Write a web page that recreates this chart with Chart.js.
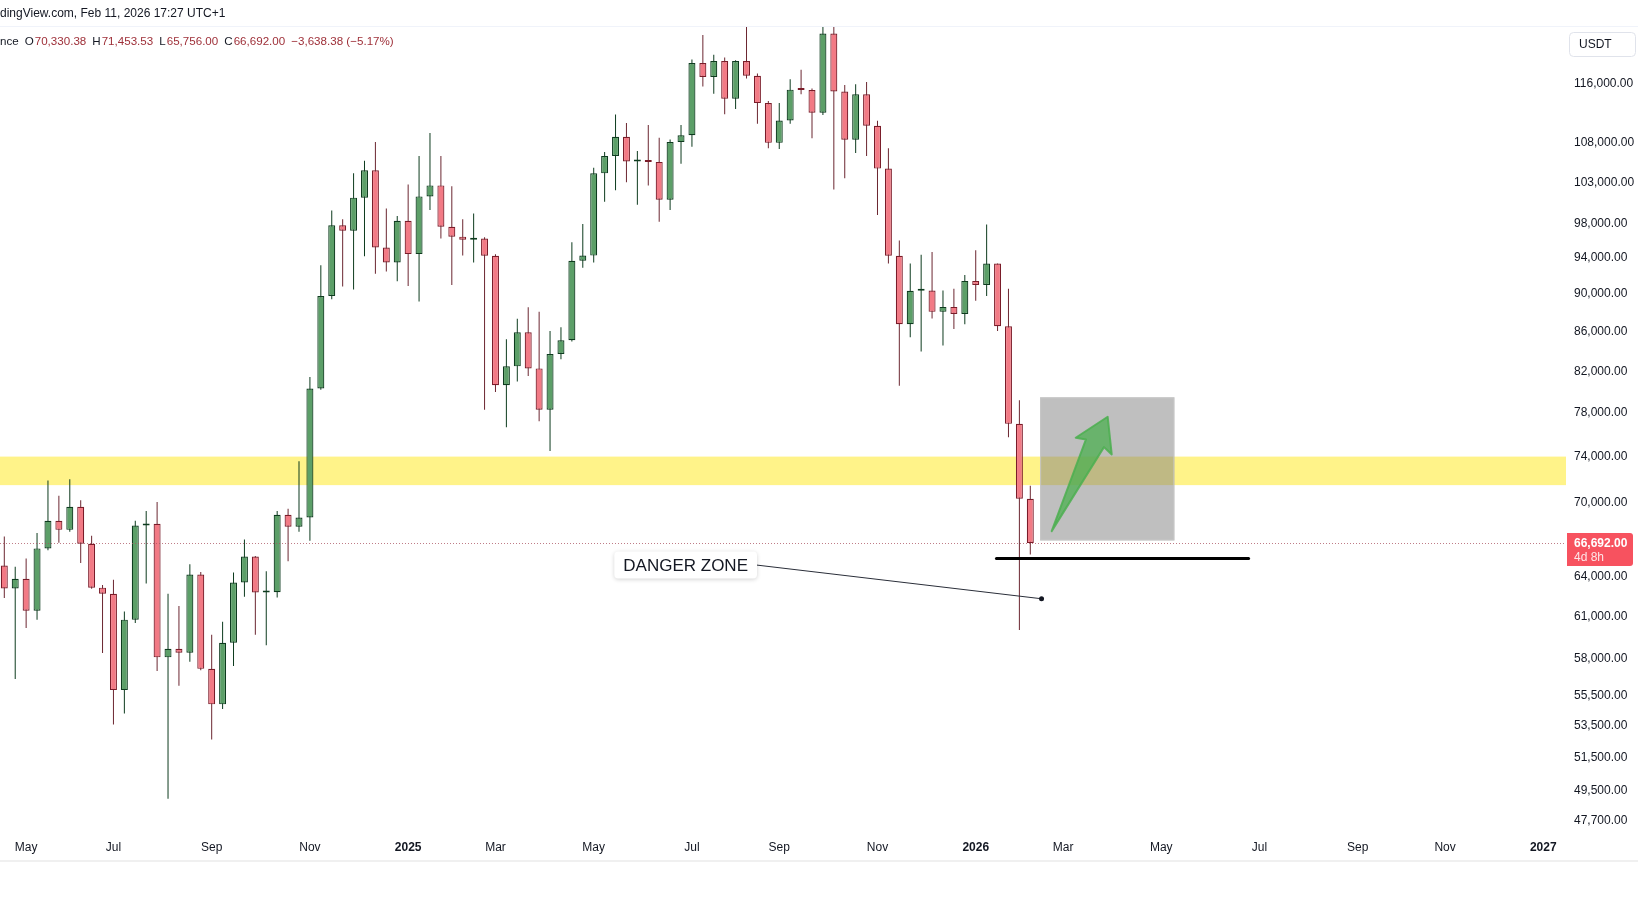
<!DOCTYPE html>
<html><head><meta charset="utf-8">
<script src="https://cdn.jsdelivr.net/npm/chart.js@4.4.1/dist/chart.umd.min.js"></script>
<style>html,body{margin:0;padding:0;background:#fff;overflow:hidden}canvas{display:block}</style>
</head><body><canvas id="c" width="1638" height="921"></canvas>
<script>
// Weekly candles, week 0 = week of Apr 22, 2024 ... week 94 = week of Feb 9, 2026
const opens  = [64900,63120,63870,61460,66250,68500,67750,69650,66620,63190,62730,55850,60800,68100,68250,58100,58700,58420,64200,57300,54900,59130,63580,65600,62830,62850,68990,68000,68770,80330,89800,97800,97160,101100,104500,95200,93500,98330,94450,101250,102600,97620,96460,96100,96250,94270,80640,82500,85960,82300,78300,83740,85140,93690,94280,104100,106300,108800,105600,105700,105550,100850,108100,109000,118900,116920,119200,113900,119200,117100,113300,108000,110950,115150,115100,112000,123200,114900,108400,114500,110250,104700,94270,86800,90360,90400,88100,88630,87880,91450,91000,93390,86590,76980,70330.38];
const highs  = [67200,64800,65450,67500,71900,70600,72000,70200,67260,63400,63800,61400,68500,69300,70050,62730,61800,65000,64400,59700,60650,64350,66960,65650,64450,69300,69500,73580,81450,93200,99540,98500,104100,105700,108100,99800,98900,102700,106300,109300,106300,102500,98500,99200,96400,94430,85240,87370,88600,88100,86100,86470,95800,97950,104800,106800,111750,110600,106950,110350,108650,108450,110350,119400,123000,120100,119700,119300,124200,117400,113600,113300,116600,117950,115300,125700,126200,115800,115900,116200,110900,107300,96000,93400,94370,94700,90400,90600,92100,94900,97880,93400,90600,79200,71453.53];
const lows   = [62400,56600,60200,60800,66100,66700,67600,65100,63100,58400,53580,54300,60550,63500,57150,49000,56150,57800,57200,52630,54600,57500,62510,59700,58950,62440,65240,67600,66860,80200,89440,90830,90500,94200,92230,92500,91400,90900,89200,99600,96230,91000,94300,93500,78300,80000,76660,81000,81550,77220,74500,83200,85000,92900,93500,100600,102000,103000,100250,102600,98200,99600,105300,107500,115600,114600,111800,112500,116700,110500,107300,107200,110500,114500,108600,111700,102100,103500,106700,106300,99000,93400,80600,85450,84000,87400,84600,86300,86800,89300,89800,86100,75750,60050,65756];
const closes = [63120,63870,61460,66250,68500,67750,69650,66620,63190,62730,55850,60800,68100,68250,58100,58700,58420,64200,57300,54900,59130,63580,65600,62830,62850,68990,68000,68770,80330,89800,97800,97160,101100,104500,95200,93500,98330,94450,101250,102600,97620,96460,96100,96250,94270,80640,82500,85960,82300,78300,83740,85140,93690,94280,104100,106300,108800,105600,105700,105550,100850,108100,109000,118900,116920,119200,113900,119200,117100,113300,108000,110950,115150,115100,112000,123200,114900,108400,114500,110250,104700,94270,86800,90360,90400,88100,88630,87880,91450,91000,93390,86590,76980,70330.38,66692];

const priceTicks = [116000,108000,103000,98000,94000,90000,86000,82000,78000,74000,70000,67000,64000,61000,58000,55500,53500,51500,49500,47700];
const timeTickWeeks  = [2,10,19,28,37,45,54,63,71,80,89,97,106,115,124,132,141];
const timeTickLabels = ['May','Jul','Sep','Nov','2025','Mar','May','Jul','Sep','Nov','2026','Mar','May','Jul','Sep','Nov','2027'];

const lastPrice = 66692;
const zoneBand = [71500, 74000];           // yellow zone
const grayBox = {x: [94.9, 107.2], y: [66890, 79480]};
const supportLine = {x: [90.9, 114.0], y: 65450};
const dangerLine = {from: [68.96, 64930], to: [95.03, 62350]};
const arrowPts = [[95.96,67645],[99.10,75550],[98.16,75700],[101.09,77640],[101.46,74190],[100.75,74850]];

const FONT = '"Liberation Sans", Arial, sans-serif';
const upFill='#5c9f68', upLine='#0d3b1e', dnFill='#f27a85', dnLine='#7a1c29', dnWick='#6b2630';
const isUp = i => closes[i] >= opens[i];

const idx = opens.map((_, i) => i);
const bodyData = idx.map(i => ({x: i, y: [opens[i], closes[i]]}));
const wickData = idx.map(i => ({x: i, y: [lows[i], highs[i]]}));

const fmt = v => Number(v).toLocaleString('en-US', {minimumFractionDigits: 2, maximumFractionDigits: 2});

const annot = {
  id: 'annot',
  beforeDatasetsDraw(chart) {
    const {ctx, chartArea: a, scales: {y}} = chart;
    ctx.save();
    ctx.beginPath(); ctx.rect(a.left, a.top, a.right - a.left, a.bottom - a.top); ctx.clip();
    const y1 = y.getPixelForValue(zoneBand[1]), y2 = y.getPixelForValue(zoneBand[0]);
    ctx.fillStyle = 'rgba(255,235,59,0.6)';
    ctx.fillRect(a.left, y1, a.right - a.left, y2 - y1);
    ctx.restore();
  },
  afterDatasetsDraw(chart) {
    const {ctx, chartArea: a, scales: {x, y}} = chart;
    ctx.save();
    ctx.beginPath(); ctx.rect(a.left, a.top, a.right - a.left, a.bottom - a.top); ctx.clip();
    const py = Math.round(y.getPixelForValue(lastPrice)) + 0.5;
    ctx.strokeStyle = 'rgba(170,80,95,0.75)'; ctx.lineWidth = 1; ctx.setLineDash([1, 2]);
    ctx.beginPath(); ctx.moveTo(a.left, py); ctx.lineTo(a.right, py); ctx.stroke();
    ctx.setLineDash([]);
    const bx1 = x.getPixelForValue(grayBox.x[0]), bx2 = x.getPixelForValue(grayBox.x[1]);
    const by1 = y.getPixelForValue(grayBox.y[1]), by2 = y.getPixelForValue(grayBox.y[0]);
    ctx.fillStyle = 'rgba(128,128,128,0.5)';
    ctx.fillRect(bx1, by1, bx2 - bx1, by2 - by1);
    ctx.strokeStyle = 'rgba(200,200,200,0.9)'; ctx.lineWidth = 1;
    ctx.strokeRect(bx1 + 0.5, by1 + 0.5, bx2 - bx1 - 1, by2 - by1 - 1);
    ctx.beginPath();
    arrowPts.forEach((p, k) => {
      const px = x.getPixelForValue(p[0]), pyy = y.getPixelForValue(p[1]);
      if (k === 0) ctx.moveTo(px, pyy); else ctx.lineTo(px, pyy);
    });
    ctx.closePath();
    ctx.fillStyle = 'rgba(76,175,80,0.75)'; ctx.fill();
    ctx.strokeStyle = 'rgba(76,175,80,0.85)'; ctx.lineWidth = 2; ctx.lineJoin = 'round'; ctx.stroke();
    const sy = y.getPixelForValue(supportLine.y);
    ctx.strokeStyle = '#000'; ctx.lineWidth = 3; ctx.lineCap = 'round';
    ctx.beginPath(); ctx.moveTo(x.getPixelForValue(supportLine.x[0]), sy); ctx.lineTo(x.getPixelForValue(supportLine.x[1]), sy); ctx.stroke();
    const dx1 = x.getPixelForValue(dangerLine.from[0]), dy1 = y.getPixelForValue(dangerLine.from[1]);
    const dx2 = x.getPixelForValue(dangerLine.to[0]), dy2 = y.getPixelForValue(dangerLine.to[1]);
    ctx.strokeStyle = '#2a2e39'; ctx.lineWidth = 1; ctx.lineCap = 'butt';
    ctx.beginPath(); ctx.moveTo(dx1, dy1); ctx.lineTo(dx2, dy2); ctx.stroke();
    ctx.fillStyle = '#131722'; ctx.beginPath(); ctx.arc(dx2, dy2, 2.5, 0, Math.PI * 2); ctx.fill();
    ctx.font = '17px ' + FONT;
    const text = 'DANGER ZONE';
    const tw = ctx.measureText(text).width;
    const bw = tw + 18, bh = 27, lx = dx1 - bw, ly = dy1 - bh / 2;
    ctx.save();
    ctx.shadowColor = 'rgba(0,0,0,0.18)'; ctx.shadowBlur = 4; ctx.shadowOffsetY = 1;
    ctx.fillStyle = '#fff';
    ctx.beginPath(); ctx.roundRect(lx, ly, bw, bh, 4); ctx.fill();
    ctx.restore();
    ctx.fillStyle = '#131722'; ctx.textBaseline = 'middle'; ctx.textAlign = 'center';
    ctx.fillText(text, lx + bw / 2, dy1 + 1);
    ctx.restore();
  },
  afterDraw(chart) {
    const {ctx, scales: {y}} = chart;
    ctx.save();
    ctx.fillStyle = '#f0f3fa'; ctx.fillRect(0, 26, 1638, 1);
    ctx.textBaseline = 'middle'; ctx.textAlign = 'left';
    ctx.font = '12px ' + FONT; ctx.fillStyle = '#131722';
    ctx.fillText('dingView.com, Feb 11, 2026 17:27 UTC+1', 0, 14);
    ctx.font = '11.6px ' + FONT;
    let cx = 0;
    const seg = (t, col, gap) => { ctx.fillStyle = col; ctx.fillText(t, cx, 42); cx += ctx.measureText(t).width + gap; };
    const red = '#9e2f38', dark = '#131722';
    seg('nce', dark, 6);
    seg('O', dark, 1); seg('70,330.38', red, 6);
    seg('H', dark, 1); seg('71,453.53', red, 6);
    seg('L', dark, 1); seg('65,756.00', red, 6);
    seg('C', dark, 1); seg('66,692.00', red, 6);
    seg('\u22123,638.38 (\u22125.17%)', red, 0);
    ctx.strokeStyle = '#e0e3eb'; ctx.lineWidth = 1; ctx.fillStyle = '#fff';
    ctx.beginPath(); ctx.roundRect(1569.5, 32.5, 66, 24, 4); ctx.fill(); ctx.stroke();
    ctx.fillStyle = dark; ctx.font = '12px ' + FONT; ctx.fillText('USDT', 1579, 45);
    const py = y.getPixelForValue(lastPrice);
    ctx.fillStyle = '#f7525f';
    ctx.beginPath(); ctx.roundRect(1567, py - 10, 66, 33, [0, 3, 3, 0]); ctx.fill();
    ctx.fillStyle = '#fff'; ctx.font = 'bold 12px ' + FONT;
    ctx.fillText(fmt(lastPrice), 1574, py + 0.5);
    ctx.fillStyle = 'rgba(255,255,255,0.85)'; ctx.font = '12px ' + FONT;
    ctx.fillText('4d 8h', 1574, py + 15);
    ctx.fillStyle = '#f0f0f0'; ctx.fillRect(0, 860, 1638, 2);
    ctx.restore();
  }
};

new Chart(document.getElementById('c'), {
  type: 'bar',
  data: {
    datasets: [
      {
        label: 'body', data: bodyData, grouped: false, barThickness: 7, minBarLength: 2,
        borderWidth: 1.2, borderSkipped: false, inflateAmount: 0,
        backgroundColor: c => isUp(c.dataIndex) ? upFill : dnFill,
        borderColor: c => isUp(c.dataIndex) ? upLine : dnLine
      },
      {
        label: 'wick', data: wickData, grouped: false, barThickness: 1, borderWidth: 0, inflateAmount: 0,
        backgroundColor: c => isUp(c.dataIndex) ? upLine : dnWick
      }
    ]
  },
  options: {
    responsive: false, animation: false, devicePixelRatio: 1,
    layout: {padding: {top: 27, left: 0, right: 0, bottom: 61}},
    plugins: {legend: {display: false}, tooltip: {enabled: false}},
    scales: {
      x: {
        type: 'linear', min: -0.394, max: 143.08, offset: false,
        grid: {display: false, drawTicks: false}, border: {display: false},
        afterBuildTicks: s => { s.ticks = timeTickWeeks.map(v => ({value: v})); },
        afterFit: s => { s.height = 26; },
        ticks: {
          autoSkip: false, maxRotation: 0, minRotation: 0, padding: 6, color: '#131722',
          font: c => ({family: FONT, size: 12, weight: /^\d{4}$/.test(timeTickLabels[c.index] || '') ? 'bold' : 'normal'}),
          callback: (v, i) => timeTickLabels[i]
        }
      },
      y: {
        type: 'logarithmic', position: 'right', min: 46960, max: 124180,
        grid: {display: false, drawTicks: false}, border: {display: false},
        afterBuildTicks: s => { s.ticks = priceTicks.map(v => ({value: v})); },
        afterFit: s => { s.width = 72; },
        ticks: {
          autoSkip: false, padding: 8, crossAlign: 'near', color: '#131722',
          font: {family: FONT, size: 12},
          callback: v => fmt(v)
        }
      }
    }
  },
  plugins: [annot]
});
</script>
</body></html>
